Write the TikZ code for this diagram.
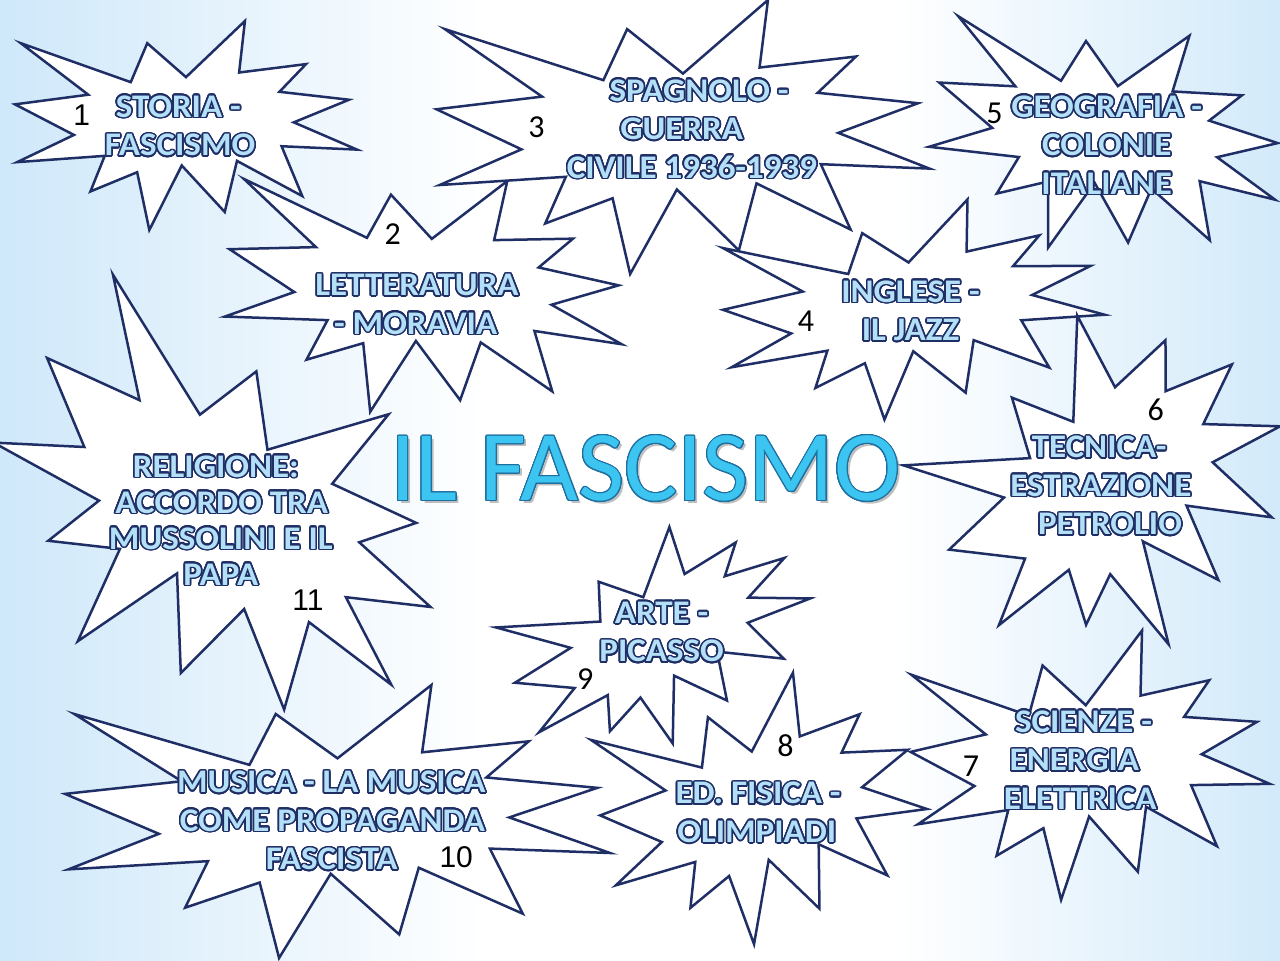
\documentclass[tikz,border=0pt]{standalone}
\usepackage{fontspec}
\setmainfont{Carlito}
\newfontfamily\numfont{Liberation Sans}
\newfontfamily\lblfont[FakeStretch=1.06]{Carlito}
\usepackage{xcolor}
\usepackage{contour}
\usepackage{tikz}

\definecolor{navy}{HTML}{1F2F66}
\definecolor{lblfill}{HTML}{B4E0F7}
\definecolor{bgblue}{HTML}{98CDF3}
\definecolor{bgmid}{HTML}{B8DDF7}
\definecolor{titlecyan}{HTML}{3CC5F0}
\definecolor{titleline}{HTML}{1E6FA0}

\pgfdeclarehorizontalshading{slidebg}{100bp}{color(0bp)=(bgblue); color(16bp)=(bgmid); color(44bp)=(white); color(60bp)=(white); color(84bp)=(bgmid); color(100bp)=(bgblue)}

\contourlength{0.8pt}
\contournumber{24}

% explosion outline: centre x, centre y, width, height, turn
\newcommand{\burst}[5]{%
  \draw[burst,shift={(#1,#2)},rotate=#5]
    ({#3*(0.5-0.5)},{#4*(0.2685-0.5)})
    \foreach \sx/\sy in {0.6723/0,0.6553/0.2465,0.8509/0.2063,0.7732/0.3387,0.9767/0.3767,0.8151/0.4850,1/0.6153,0.7795/0.5992,0.8400/0.8377,0.6491/0.6693,0.6133/0.9137,0.4876/0.6914,0.3928/1,0.3572/0.7235,0.2205/0.8156,0.2624/0.6452,0.0063/0.6753,0.1723/0.5451,0/0.3988,0.2142/0.3526,0.0171/0.1063,0.3385/0.2926,0.3867/0.1063}
      { -- ({#3*(\sx-0.5)},{#4*(\sy-0.5)}) } -- cycle;
}

\begin{document}
\begin{tikzpicture}[x=0.5pt,y=-0.5pt,node distance=19.25pt]
      \tikzset{burst/.style={draw=navy,fill=white,line width=1.25pt}}
      \tikzset{lbl/.style={font=\lblfont\fontsize{16.5}{19.25}\selectfont\bfseries,text=lblfill,inner sep=0pt,text height=10.6pt,text depth=0pt}}
      \tikzset{num/.style={font=\fontsize{16}{19}\selectfont,text=black,inner sep=0pt}}
      \tikzset{bignum/.style={font=\numfont\fontsize{15}{18}\selectfont,text=black,inner sep=0pt}}
      \tikzset{heading/.style={font=\fontsize{50}{60}\selectfont,text=titlecyan,inner sep=0pt,text height=32.2pt,text depth=0pt}}
      \def\outl#1{\contour{navy}{#1}}

      \useasboundingbox (0,0) rectangle (1280,960);
      \clip (0,0) rectangle (1280,960);
      \shade[shading=slidebg] (0,0) rectangle (1280,960);

      \burst{186}{125.5}{342}{209}{0}
      \burst{425.8}{295}{400}{244}{-6.1}
      \burst{683}{137}{493}{274}{0}
      \burst{913.7}{310.8}{379}{210}{6.1}
      \burst{1107.5}{139.5}{352}{235}{-11}
      \burst{1113.4}{486}{346}{327}{32}
      \burst{1090}{766}{356}{263}{4}
      \burst{763.2}{810.4}{322}{259}{11}
      \burst{662}{639.3}{304}{199}{24}
      \burst{337.5}{821.5}{545}{273}{0}
      \burst{220.6}{519.2}{468}{362}{-34}

      \node[heading,text=black!50,opacity=0.5] (titleshadow) at (648.5,471.5) {IL FASCISMO};
      \node[heading] (title) at (645.5,468.5) {\contourlength{0.5pt}\contour{titleline}{IL FASCISMO}};

      \node[lbl] (storia) at (178.3,106.7) {\outl{STORIA -}};
      \node[lbl] (fasc) [below of=storia,xshift=0.85pt] {\outl{FASCISMO}};

      \node[lbl] (lett) at (417,285) {\outl{LETTERATURA}};
      \node[lbl] (morav) [below of=lett,xshift=-0.65pt] {\outl{- MORAVIA}};

      \node[lbl] (spagn) at (699,90.5) {\outl{SPAGNOLO -}};
      \node[lbl] (guerra) [below of=spagn,xshift=-8.65pt] {\outl{GUERRA}};
      \node[lbl] (civile) [below of=guerra,xshift=5.15pt] {\outl{CIVILE 1936-1939}};

      \node[lbl] (ingl) at (910.5,291.7) {\outl{INGLESE -}};
      \node[lbl] (jazz) [below of=ingl] {\outl{IL JAZZ}};

      \node[lbl] (geo) at (1106.7,106.7) {\outl{GEOGRAFIA -}};
      \node[lbl] (colon) [below of=geo] {\outl{COLONIE}};
      \node[lbl] (ital) [below of=colon] {\outl{ITALIANE}};

      \node[lbl] (tecn) at (1099.2,447.2) {\outl{TECNICA-}};
      \node[lbl] (estr) [below of=tecn,xshift=0.8pt] {\outl{ESTRAZIONE}};
      \node[lbl] (petr) [below of=estr,xshift=4.6pt] {\outl{PETROLIO}};

      \node[lbl] (scien) at (1083.5,721.7) {\outl{SCIENZE -}};
      \node[lbl] (energ) [below of=scien,xshift=-4.55pt] {\outl{ENERGIA}};
      \node[lbl] (elett) [below of=energ,xshift=2.95pt] {\outl{ELETTRICA}};

      \node[lbl] (edfis) at (758.1,793.3) {\outl{ED. FISICA -}};
      \node[lbl] (olimp) [below of=edfis,xshift=-0.65pt] {\outl{OLIMPIADI}};

      \node[lbl] (arte) at (661.6,612.8) {\outl{ARTE -}};
      \node[lbl] (picas) [below of=arte] {\outl{PICASSO}};

      \node[lbl] (music) at (331.3,782) {\outl{MUSICA - LA MUSICA}};
      \node[lbl] (propag) [below of=music,xshift=0.6pt] {\outl{COME PROPAGANDA}};
      \node[lbl] (fascista) [below of=propag,xshift=-0.4pt] {\outl{FASCISTA}};

      \node[lbl] (relig) at (215.8,466.5) {\outl{RELIGIONE:}};
      \node[lbl] (accordo) [below of=relig,xshift=2.95pt,yshift=1.25pt] {\outl{ACCORDO TRA}};
      \node[lbl] (mussol) [below of=accordo,xshift=-0.45pt,yshift=1.25pt] {\outl{MUSSOLINI E IL}};
      \node[lbl] (papa) [below of=mussol,yshift=1.25pt] {\outl{PAPA}};

      \node[bignum] (n1) at (81.7,115.5) {1};
      \node[num] (n2) at (392.8,233.7) {2};
      \node[num] (n3) at (536.6,127.5) {3};
      \node[num] (n4) at (806,320.8) {4};
      \node[num] (n5) at (994.5,113.3) {5};
      \node[num] (n6) at (1155.8,410) {6};
      \node[num] (n7) at (971,766.7) {7};
      \node[num] (n8) at (785.4,745.5) {8};
      \node[num] (n9) at (585.2,679.2) {9};
      \node[bignum] (n10) at (456.2,857.5) {10};
      \node[bignum] (n11) at (308,600) {11};
\end{tikzpicture}
\end{document}
